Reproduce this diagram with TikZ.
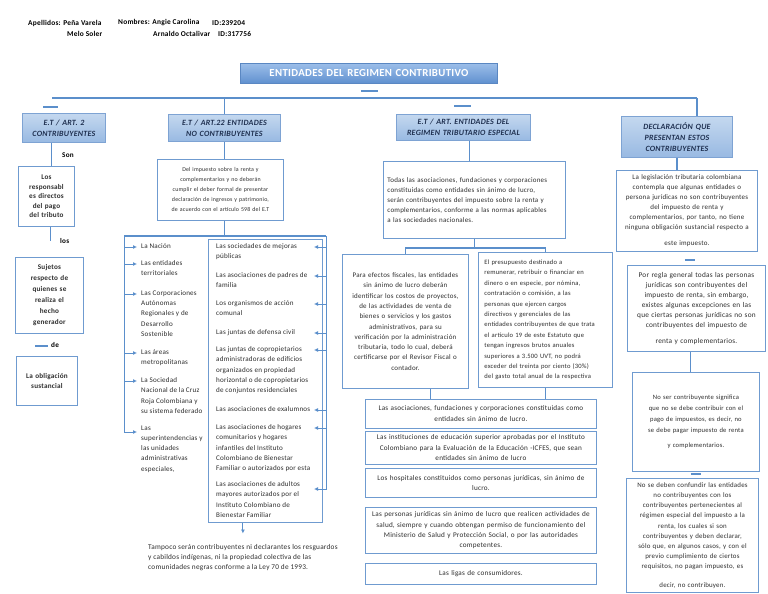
\documentclass[tikz,border=0pt]{standalone}
\usepackage{fontspec}
\setmainfont{Carlito}[LetterSpace=3]
\usetikzlibrary{arrows.meta,calc}

\definecolor{linkblue}{HTML}{5B8FCB}
\definecolor{boxline}{HTML}{6F9BD0}
\definecolor{hdrline}{HTML}{7EA3D3}
\definecolor{hdrtop}{HTML}{C4D8EF}
\definecolor{hdrbot}{HTML}{98B9E2}
\definecolor{ttlline}{HTML}{5A87C2}
\definecolor{ttltop}{HTML}{9CBEE9}
\definecolor{ttlbot}{HTML}{5F90CF}
\definecolor{hdrtext}{HTML}{1F3050}
\definecolor{bodytext}{HTML}{2E2E2E}

\begin{document}
\begin{tikzpicture}[x=1pt,y=-1pt,
  txt/.style={font=\fontsize{7}{10}\selectfont,text=bodytext,inner sep=0pt},
  lstitem/.style={txt,anchor=north west,align=left,font=\fontsize{7.1}{10.2}\selectfont},
  txtbox/.style={txt,draw=boxline,line width=0.9pt,fill=white,anchor=north west,align=center},
  hdr/.style={txtbox,draw=hdrline,top color=hdrtop,bottom color=hdrbot,text=hdrtext,font=\fontsize{8}{11}\selectfont\bfseries\itshape},
  lbl/.style={txt,anchor=west,font=\fontsize{7.2}{8}\selectfont\bfseries,text=black},
  toplbl/.style={lbl,font=\fontsize{7.4}{8}\selectfont\bfseries},
  link/.style={draw=linkblue,line width=1.2pt},
  arr/.style={link,line width=1pt,-{Latex[length=4pt,width=4pt]}},
  wh/.style n args={3}{minimum width=#1pt,minimum height=#2pt,text width=#3pt}]

\path[use as bounding box,fill=white] (0,0) rectangle (768,594);

\node[toplbl] (ape) at (28,23) {Apellidos: Peña Varela};
\node[toplbl] (nom) at (118,23) {Nombres: Angie Carolina};
\node[toplbl] (id1) at (212,23) {ID:239204};
\node[toplbl] (ape2) at (67,34) {Melo Soler};
\node[toplbl] (nom2) at (153,34) {Arnaldo Octalivar};
\node[toplbl] (id2) at (218,34) {ID:317756};

\node[txtbox,wh={257}{20}{257},draw=ttlline,top color=ttltop,bottom color=ttlbot,text=white,font=\fontsize{10.8}{12}\selectfont\bfseries] (ttl) at (240,63) {ENTIDADES DEL REGIMEN CONTRIBUTIVO};

\node[hdr,wh={83}{29}{83}] (a1) at (22,113) {E.T / ART. 2\\CONTRIBUYENTES};
\node[hdr,wh={112}{27}{112}] (a2) at (168,114) {E.T / ART.22 ENTIDADES\\NO CONTRIBUYENTES};
\node[hdr,wh={134}{26}{134}] (a3) at (396,114) {E.T / ART. ENTIDADES DEL\\REGIMEN TRIBUTARIO ESPECIAL};
\node[hdr,wh={111}{41}{111}] (a4) at (621,116) {DECLARACIÓN QUE\\PRESENTAN ESTOS\\CONTRIBUYENTES};

\coordinate (busL) at (52,98);
\coordinate (busR) at (697,98);
\draw[link] (busL) -- (busR);
\draw[link] (a2.north) -- (a2.north |- busL);
\draw[link] (busR) -- (busR |- a4.north);
\draw[link] ($(ttl.south)+(-8,7)$) -- ++(17,0);
\draw[link] ($(a1.north west)+(21,-6)$) -- ++(15,0);
\draw[link] ($(a3.north)+(-9,-8)$) -- ++(17,0);

\node[txtbox,wh={56}{60}{56},font=\fontsize{7.2}{9.6}\selectfont\bfseries] (resp) at (18,166) {Los\\responsabl\\es directos\\del pago\\del tributo};
\node[txtbox,wh={68}{76}{68},font=\fontsize{7.2}{11}\selectfont\bfseries] (suj) at (15,257) {Sujetos\\respecto de\\quienes se\\realiza el\\hecho\\generador};
\node[txtbox,wh={61}{49}{61},font=\fontsize{7.2}{10}\selectfont\bfseries] (oblig) at (16,356) {La obligación\\sustancial};
\node[lbl] (son) at (62,155) {Son};
\node[lbl] (los) at (60,241) {los};
\node[lbl] (de) at (51,345) {de};

\coordinate (sonT) at ($(resp.north)+(5,0)$);
\draw[link] (a1.south -| sonT) -- (sonT);
\coordinate (losT) at ($(resp.south)+(4,14)$);
\draw[link] (resp.south -| losT) -- (losT);
\draw[link] ($(suj.south)+(-14,12)$) -- ++(13,0);

\node[txtbox,wh={126}{61}{126},font=\fontsize{5.9}{10}\selectfont] (desc) at (157,159) {Del impuesto sobre la renta y\\complementarios y no deberán\\cumplir el deber formal de presentar\\declaración de ingresos y patrimonio,\\de acuerdo con el artículo 598 del E.T};
\draw[link] (a2.south) -- (a2.south |- desc.north);
\coordinate (b2L) at (124,236);
\coordinate (b2R) at (326,236);
\coordinate (b2M) at (a2.south |- b2L);
\draw[link] (desc.south -| b2M) -- (b2M);
\draw[link] (b2L) -- (b2R);

\node[lstitem] (li1) at (141,243.5) {La Nación};
\node[lstitem] (li2) at (141,260.5) {Las entidades\\territoriales};
\node[lstitem] (li3) at (141,290.5) {Las Corporaciones\\Autónomas\\Regionales y de\\Desarrollo\\Sostenible};
\node[lstitem] (li4) at (141,349.5) {Las áreas\\metropolitanas};
\node[lstitem] (li5) at (141,377.5) {La Sociedad\\Nacional de la Cruz\\Roja Colombiana y\\su sistema federado};
\node[lstitem] (li6) at (141,425.5) {Las\\superintendencias y\\las unidades\\administrativas\\especiales,};

\foreach \n in {li1,li2,li3,li4,li5}
  \draw[arr] ($(\n.north west)+(-17,3.5)$) -- ($(\n.north west)+(-4,3.5)$);
\draw[arr] (b2L) |- ($(li6.north west)+(-4,6.5)$);

\node[txtbox,wh={114}{283}{114}] (rbox) at (208,239) {};
\node[lstitem] (ri1) at (216,243.5) {Las sociedades de mejoras\\públicas};
\node[lstitem] (ri2) at (216,272.5) {Las asociaciones de padres de\\familia};
\node[lstitem] (ri3) at (216,300.5) {Los organismos de acción\\comunal};
\node[lstitem] (ri4) at (216,329.5) {Las juntas de defensa civil};
\node[lstitem] (ri5) at (216,346.5) {Las juntas de copropietarios\\administradoras de edificios\\organizados en propiedad\\horizontal o de copropietarios\\de conjuntos residenciales};
\node[lstitem] (ri6) at (216,406.5) {Las asociaciones de exalumnos};
\node[lstitem] (ri7) at (216,424.5) {Las asociaciones de hogares\\comunitarios y hogares\\infantiles del Instituto\\Colombiano de Bienestar\\Familiar o autorizados por esta};
\node[lstitem] (ri8) at (216,481.5) {Las asociaciones de adultos\\mayores autorizados por el\\Instituto Colombiano de\\Bienestar Familiar};

\foreach \n in {ri1,ri2,ri3,ri4,ri5,ri6,ri7}
  \draw[arr] ($(\n.north west)+(110,3.5)$) -- ($(\n.north west)+(98,3.5)$);
\draw[arr] (b2R) |- ($(ri8.north west)+(98,7.5)$);

\node[lstitem,font=\fontsize{7.3}{10}\selectfont] (tamp) at (148,544.5) {Tampoco serán contribuyentes ni declarantes los resguardos\\y cabildos indígenas, ni la propiedad colectiva de las\\comunidades negras conforme a la Ley 70 de 1993.};
\draw[arr] (rbox.south -| tamp.north) -- ($(tamp.north)+(0,-11)$);

\node[txtbox,wh={182}{77}{174},align=left,inner xsep=4pt,font=\fontsize{7}{10}\selectfont] (todas) at (383,161) {Todas las asociaciones, fundaciones y corporaciones\\constituidas como entidades sin ánimo de lucro,\\serán contribuyentes del impuesto sobre la renta y\\complementarios, conforme a las normas aplicables\\a las sociedades nacionales.};
\coordinate (t3) at ($(a3.south)+(6,0)$);
\draw[link] (t3) -- (t3 |- todas.north);

\node[txtbox,wh={126}{134}{126},font=\fontsize{7}{10.3}\selectfont] (pfis) at (342,254) {Para efectos fiscales, las entidades\\sin ánimo de lucro deberán\\identificar los costos de proyectos,\\de las actividades de venta de\\bienes o servicios y los gastos\\administrativos, para su\\verificación por la administración\\tributaria, todo lo cual, deberá\\certificarse por el Revisor Fiscal o\\contador.};
\node[txtbox,wh={134}{135}{122},align=left,inner xsep=6pt,font=\fontsize{6.6}{10.4}\selectfont] (ppre) at (478,252) {El presupuesto destinado a\\remunerar, retribuir o financiar en\\dinero o en especie, por nómina,\\contratación o comisión, a las\\personas que ejercen cargos\\directivos y gerenciales de las\\entidades contribuyentes de que trata\\el artículo 19 de este Estatuto que\\tengan ingresos brutos anuales\\superiores a 3.500 UVT, no podrá\\exceder del treinta por ciento (30\%)\\del gasto total anual de la respectiva};
\coordinate (j3) at ($(todas.south)+(0,9)$);
\draw[link] (todas.south) -- (j3);
\draw[link] (pfis.north) |- (j3) -| (ppre.north);

\node[txtbox,wh={231}{29}{231},font=\fontsize{7.2}{11}\selectfont] (asoc) at (365,399) {Las asociaciones, fundaciones y corporaciones constituidas como\\entidades sin ánimo de lucro.};
\node[txtbox,wh={231}{33}{231},font=\fontsize{7.2}{10.5}\selectfont] (icfes) at (365,431) {Las instituciones de educación superior aprobadas por el Instituto\\Colombiano para la Evaluación de la Educación -ICFES, que sean\\entidades sin ánimo de lucro};
\node[txtbox,wh={231}{29}{231},font=\fontsize{7.2}{10.5}\selectfont] (hosp) at (365,468) {Los hospitales constituidos como personas jurídicas, sin ánimo de\\lucro.};
\node[txtbox,wh={231}{46}{231},font=\fontsize{7.2}{10.4}\selectfont] (salud) at (365,507) {Las personas jurídicas sin ánimo de lucro que realicen actividades de\\salud, siempre y cuando obtengan permiso de funcionamiento del\\Ministerio de Salud y Protección Social, o por las autoridades\\competentes.};
\node[txtbox,wh={231}{21}{231},font=\fontsize{7.2}{10}\selectfont] (ligas) at (365,563) {Las ligas de consumidores.};

\coordinate (p3L) at ($(pfis.south)+(25,0)$);
\draw[link] (p3L) -- (p3L |- asoc.north);
\draw[link] (ppre.south) -- (ppre.south |- asoc.north);

\node[txtbox,wh={141}{81}{141},font=\fontsize{7}{10}\selectfont] (leg) at (616,170) {La legislación tributaria colombiana\\contempla que algunas entidades o\\persona jurídicas no son contribuyentes\\del impuesto de renta y\\complementarios, por tanto, no tiene\\ninguna obligación sustancial respecto a\\[6pt]este impuesto.};
\draw[link] (a4.south) -- (a4.south |- leg.north);
\draw[link] ($(leg.south)+(-2,8)$) -- ++(10,0);

\node[txtbox,wh={138}{86}{138},font=\fontsize{7.3}{10}\selectfont] (regla) at (627,265) {Por regla general todas las personas\\jurídicas son contribuyentes del\\impuesto de renta, sin embargo,\\existes algunas excepciones en las\\que ciertas personas jurídicas no son\\contribuyentes del impuesto de\\[6pt]renta y complementarios.};
\coordinate (r4) at ($(regla.south)+(-6,0)$);

\node[txtbox,wh={127}{99}{127},font=\fontsize{6.6}{10.8}\selectfont] (noser) at (632,372) {No ser contribuyente significa\\que no se debe contribuir con el\\pago de impuestos, es decir, no\\se debe pagar impuesto de renta\\[5pt]y complementarios.};
\draw[link] (r4) -- (r4 |- noser.north);
\draw[link] ($(noser.south)+(-5,2)$) -- ++(10,0);

\node[txtbox,wh={132}{114}{132},font=\fontsize{6.9}{10.2}\selectfont] (conf) at (626,478) {No se deben confundir las entidades\\no contribuyentes con los\\contribuyentes pertenecientes al\\régimen especial del impuesto a la\\renta, los cuales si son\\contribuyentes y deben declarar,\\sólo que, en algunos casos, y con el\\previo cumplimiento de ciertos\\requisitos, no pagan impuesto, es\\[8pt]decir, no contribuyen.};

\end{tikzpicture}
\end{document}
